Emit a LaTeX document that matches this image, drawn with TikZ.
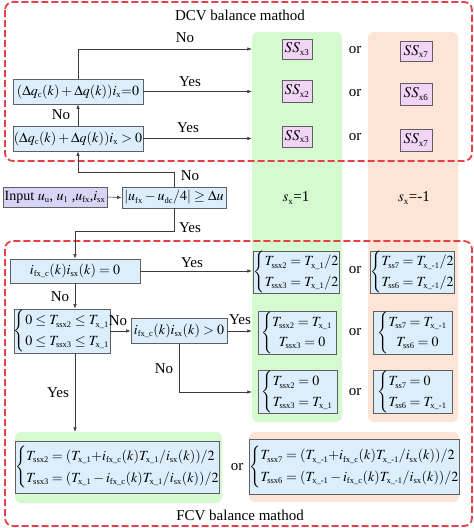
\documentclass[tikz,border=0pt]{standalone}
\usepackage{amsmath}
\usepackage{mathptmx}
\usepackage{fontspec}
\setmainfont{Liberation Serif}
\usetikzlibrary{arrows.meta}
\DeclareMathSizes{14}{14}{8.5}{7}
\DeclareMathSizes{15}{15}{9}{7}
\newcommand{\tsb}[1]{\text{#1}}
\definecolor{gfill}{RGB}{214,250,208}
\definecolor{ofill}{RGB}{252,228,214}
\definecolor{bfill}{RGB}{220,238,252}
\definecolor{pfill}{RGB}{242,212,246}
\definecolor{ifill}{RGB}{216,212,246}
\definecolor{dred}{RGB}{232,64,72}
\definecolor{bord}{RGB}{95,95,95}
\definecolor{lnc}{RGB}{60,60,60}
\tikzset{
  box/.style={draw=bord, line width=0.8pt, fill=bfill, inner sep=0pt},
  ssbox/.style={draw=bord, line width=0.8pt, fill=pfill, inner sep=1pt, minimum width=30, minimum height=20, font=\fontsize{15}{18}\selectfont},
  col/.style={rounded corners=6pt, draw=none, inner sep=0pt},
  arr/.style={-{Latex[length=4.5pt,width=3.5pt]}, draw=lnc, line width=0.6pt},
  lab/.style={inner sep=0pt, font=\fontsize{15}{18}\selectfont},
  frame/.style={draw=dred, line width=1.8pt, dash pattern=on 7pt off 3pt, rounded corners=8pt}
}
\begin{document}
\begin{tikzpicture}[x=1pt,y=-1pt,font=\fontsize{14}{16.8}\selectfont]
\useasboundingbox (0,0) rectangle (474,528);
% columns
\node[col, fill=gfill, minimum width=90, minimum height=390] (gcol) at (297,227) {};
\node[col, fill=ofill, minimum width=90, minimum height=390] (ocol) at (413,227) {};
% frames
\draw[frame] (5,2) rectangle (472,161);
\draw[frame] (5,241) rectangle (472,526);
\node[lab] (t1) at (240,15) {DCV balance mathod};
\node[lab] (t2) at (240,515) {FCV balance mathod};
% DCV decisions
\node[box, minimum width=130, minimum height=25] (d1) at (78,91.5) {$(\Delta q_{\tsb{c}}(k)+\Delta q(k))i_{\tsb{x}}{=}0$};
\node[box, minimum width=130, minimum height=25] (d2) at (78,138.5) {$(\Delta q_{\tsb{c}}(k)+\Delta q(k))i_{\tsb{x}}>0$};
% SS boxes
\node[ssbox] (ssa) at (297,49) {$SS_{\tsb{x3}}$};
\node[ssbox, minimum width=32] (ssb) at (416,51.5) {$SS_{\tsb{x7}}$};
\node[ssbox, minimum height=22] (ssc) at (297,91) {$SS_{\tsb{x2}}$};
\node[ssbox, minimum width=32, minimum height=22] (ssd) at (416,94) {$SS_{\tsb{x6}}$};
\node[ssbox, minimum height=21] (sse) at (297,136.5) {$SS_{\tsb{x3}}$};
\node[ssbox, minimum width=32, minimum height=22] (ssf) at (416,140) {$SS_{\tsb{x7}}$};
\node[lab] (or1) at (355,50) {or};
\node[lab] (or2) at (355,93) {or};
\node[lab] (or3) at (355,137) {or};
% input and decision
\node[draw=bord, line width=0.8pt, fill=ifill, inner sep=0pt, minimum width=104, minimum height=20] (inp) at (55,197) {Input $u_{\tsb{u}}$, $u_{1}$ ,$u_{\tsb{fx}}$,$i_{\tsb{sx}}$};
\node[box, minimum width=104, minimum height=21] (dec) at (174,197.5) {$\left|u_{\tsb{fx}}-u_{\tsb{dc}}/4\right|\geq\Delta u$};
\node[lab] (sx1) at (296,198) {$s_{\tsb{x}}$=1};
\node[lab] (sx2) at (414,198) {$s_{\tsb{x}}$=-1};
% FCV
\node[box, minimum width=130, minimum height=24] (f1) at (75,271) {$i_{\tsb{fx\_c}}(k)i_{\tsb{sx}}(k)=0$};
\node[box, minimum width=88, minimum height=44] (f2) at (62,331) {$\left\{\renewcommand{\arraystretch}{1.2}\begin{array}{@{}l@{}}0\leq T_{\tsb{ssx2}}\leq T_{\tsb{x\_1}}\\0\leq T_{\tsb{ssx3}}\leq T_{\tsb{x\_1}}\end{array}\right.$};
\node[box, minimum width=96, minimum height=25] (f3) at (179,331) {$i_{\tsb{fx\_c}}(k)i_{\tsb{sx}}(k)>0$};
% results
\node[box, minimum width=81, minimum height=42] (r1g) at (296.5,272) {$\left\{\renewcommand{\arraystretch}{1.2}\begin{array}{@{}l@{}}T_{\tsb{ssx2}}=T_{\tsb{x\_1}}/2\\T_{\tsb{ssx3}}=T_{\tsb{x\_1}}/2\end{array}\right.$};
\node[box, minimum width=79, minimum height=42] (r1o) at (412.5,272) {$\left\{\renewcommand{\arraystretch}{1.2}\begin{array}{@{}l@{}}T_{\tsb{ss7}}=T_{\tsb{x\_-1}}/2\\T_{\tsb{ss6}}=T_{\tsb{x\_-1}}/2\end{array}\right.$};
\node[box, minimum width=78, minimum height=43] (r2g) at (297,332.5) {$\left\{\renewcommand{\arraystretch}{1.2}\begin{array}{@{}c@{}}T_{\tsb{ssx2}}=T_{\tsb{x\_1}}\\T_{\tsb{ssx3}}=0\end{array}\right.$};
\node[box, minimum width=79, minimum height=43] (r2o) at (412.5,332.5) {$\left\{\renewcommand{\arraystretch}{1.2}\begin{array}{@{}c@{}}T_{\tsb{ss7}}=T_{\tsb{x\_-1}}\\T_{\tsb{ss6}}=0\end{array}\right.$};
\node[box, minimum width=79, minimum height=43] (r3g) at (297.5,392) {$\left\{\renewcommand{\arraystretch}{1.2}\begin{array}{@{}l@{}}T_{\tsb{ssx2}}=0\\T_{\tsb{ssx3}}=T_{\tsb{x\_1}}\end{array}\right.$};
\node[box, minimum width=79, minimum height=43] (r3o) at (412.5,392) {$\left\{\renewcommand{\arraystretch}{1.2}\begin{array}{@{}l@{}}T_{\tsb{ss7}}=0\\T_{\tsb{ss6}}=T_{\tsb{x\_-1}}\end{array}\right.$};
\node[lab] (or4) at (355,270) {or};
\node[lab] (or5) at (355,332) {or};
\node[lab] (or6) at (355,392) {or};
% final
\node[col, fill=gfill, minimum width=207, minimum height=71] (fg) at (118.5,467.5) {};
\node[col, fill=ofill, minimum width=210, minimum height=70] (fo) at (354,467) {};
\node[box, minimum width=197, minimum height=52] (fgb) at (117.5,467) {$\left\{\renewcommand{\arraystretch}{1.3}\begin{array}{@{}l@{}}T_{\tsb{ssx2}}=(T_{\tsb{x\_1}}{+}i_{\tsb{fx\_c}}(k)T_{\tsb{x\_1}}/i_{\tsb{sx}}(k))/2\\T_{\tsb{ssx3}}=(T_{\tsb{x\_1}}-i_{\tsb{fx\_c}}(k)T_{\tsb{x\_1}}/i_{\tsb{sx}}(k))/2\end{array}\right.$};
\node[box, minimum width=203, minimum height=55] (fob) at (354.5,466.5) {$\left\{\renewcommand{\arraystretch}{1.3}\begin{array}{@{}l@{}}T_{\tsb{ssx7}}=(T_{\tsb{x\_-1}}{+}i_{\tsb{fx\_c}}(k)T_{\tsb{x\_-1}}/i_{\tsb{sx}}(k))/2\\T_{\tsb{ssx6}}=(T_{\tsb{x\_-1}}-i_{\tsb{fx\_c}}(k)T_{\tsb{x\_-1}}/i_{\tsb{sx}}(k))/2\end{array}\right.$};
\node[lab] (or7) at (237,467) {or};
% connectors
\draw[arr] (d1.north) |- (gcol.west |- ssa);
\draw[arr] (d1.east) -- (gcol.west |- d1.east);
\draw[arr] (d2.east) -- (gcol.west |- d2.east);
\draw[arr] (d2.north) -- (d1.south);
\draw[arr] (dec.north) -- ++(0,-14) -| (d2.south);
\draw[arr] (inp.east) -- (dec.west);
\draw[arr] (dec.south) -- ++(0,23) -| (f1.north);
\draw[arr] (f1.east) -- (gcol.west |- f1.east);
\draw[arr] (f1.south) -- (f1.south |- f2.north);
\draw[arr] (f2.east) -- (f3.west);
\draw[arr] (f3.east) -- (gcol.west |- f3.east);
\draw[arr] (f3.south) |- (gcol.west |- r3g);
\draw[arr] (f1.south |- f2.south) -- (f1.south |- fg.north);
% labels
\node[lab] (l1) at (185,38) {No};
\node[lab] (l2) at (190,82) {Yes};
\node[lab] (l3) at (188,128) {Yes};
\node[lab] (l4) at (61,115) {No};
\node[lab] (l5) at (190,176) {No};
\node[lab] (l6) at (190,228) {Yes};
\node[lab] (l7) at (192,263) {Yes};
\node[lab] (l8) at (60,297) {No};
\node[lab] (l9) at (118,321) {No};
\node[lab] (l10) at (240,320) {Yes};
\node[lab] (l11) at (164,369) {No};
\node[lab] (l12) at (58,393) {Yes};
\end{tikzpicture}
\end{document}
